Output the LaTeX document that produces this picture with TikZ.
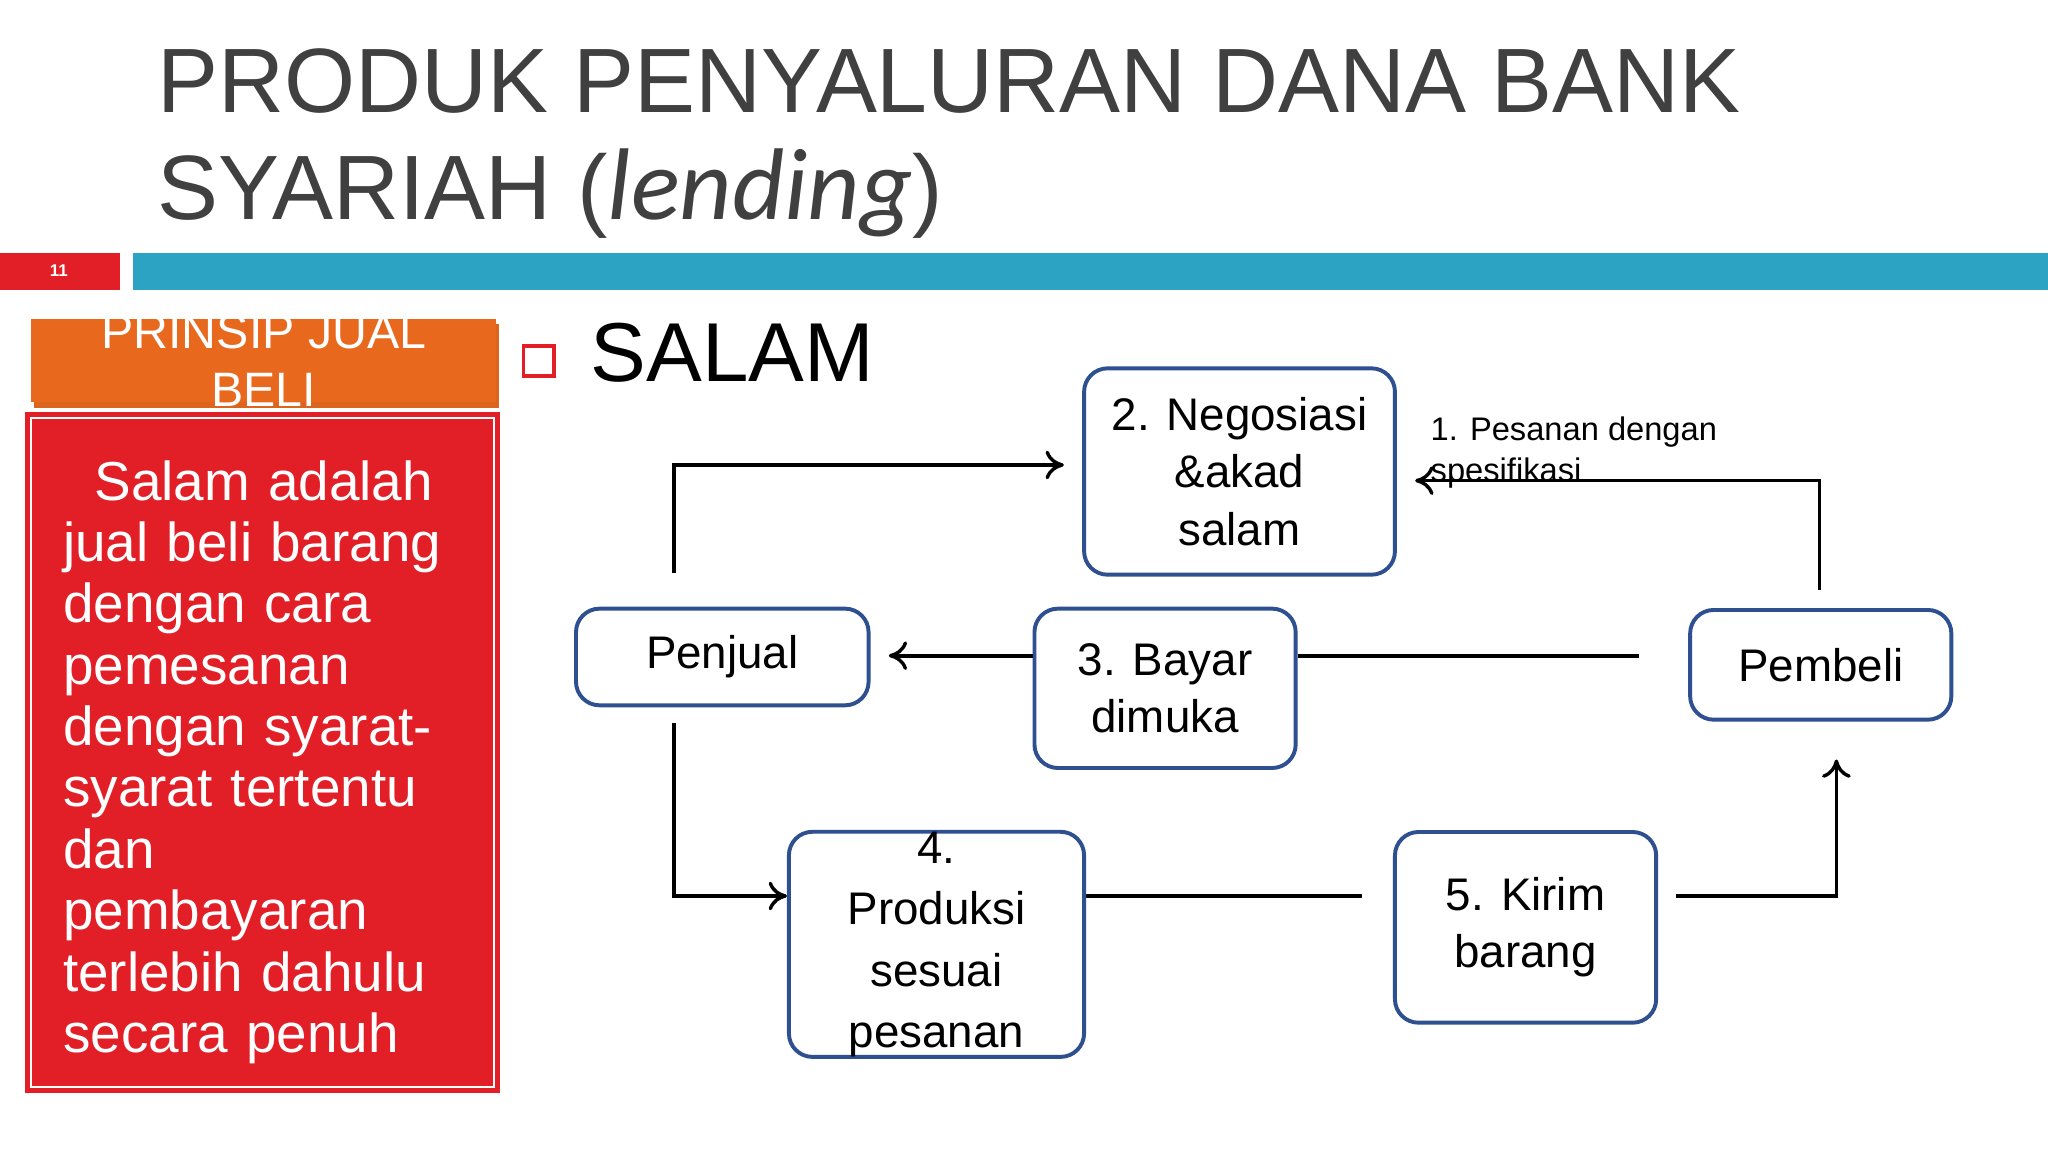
\documentclass[tikz,border=0pt]{standalone}
\usepackage{fontspec}
\setmainfont{Liberation Sans}
\newfontfamily\carl{Carlito}
\usetikzlibrary{arrows.meta,calc}
\definecolor{ttl}{HTML}{404040}
\definecolor{teal}{HTML}{2DA3C4}
\definecolor{rbar}{HTML}{E21F26}
\definecolor{org}{HTML}{E8691E}
\definecolor{bdr}{HTML}{2F5090}
\tikzset{
  box/.style={draw=bdr,line width=1.5pt,rounded corners=9pt,fill=white,align=center,font=\fontsize{17.5}{22}\selectfont,inner sep=0pt},
  conn/.style={line width=1.4pt,black},
  arr/.style={conn,-{To[length=7pt,width=11pt,line width=1.3pt]}}
}
\begin{document}
\begin{tikzpicture}[x=0.5pt,y=-0.5pt]
\useasboundingbox (0,0) rectangle (1568,882);
\fill[white] (0,0) rectangle (1568,882);
% title
\node[anchor=base west,text=ttl,font=\fontsize{35}{35}\selectfont,inner sep=0pt] (t1) at (120,86) {PRODUK PENYALURAN DANA BANK};
\node[anchor=base west,text=ttl,font=\fontsize{35}{35}\selectfont,inner sep=0pt] (t2) at (120,168) {SYARIAH ({\carl\itshape\fontsize{39}{39}\selectfont lending})};
% bars
\fill[rbar] (0,194) rectangle (92,222);
\node[text=white,font=\fontsize{6.5}{7}\selectfont\bfseries] (num) at (45,207) {11};
\fill[teal] (102,194) rectangle (1568,222);
% orange box
\begin{scope}
\clip (0,244) rectangle (400,316);
\fill[org!95!black] (26,248) rectangle (382,312);
\fill[org] (24,244) rectangle (380,308);
\node[text=white,align=center,font=\fontsize{18.5}{22}\selectfont] (ob) at (202,276) {PRINSIP JUAL\\BELI};
\end{scope}
% red box
\fill[rbar] (20,316) rectangle (382,836);
\draw[white,line width=0.8pt] (24,320) rectangle (378,832);
\draw[rbar,line width=0.6pt] (20,316) rectangle (382,836);
\node[anchor=north west,text=white,align=left,text width=175pt,inner sep=0pt,font=\fontsize{21}{23.5}\selectfont] (rt) at (48,352)
{\hspace*{12pt}Salam adalah\\jual beli barang\\dengan cara\\pemesanan\\dengan syarat-\\syarat tertentu\\dan\\pembayaran\\terlebih dahulu\\secara penuh};
% bullet and SALAM
\draw[rbar,line width=1.3pt] (401,265) rectangle (424,288);
\node[anchor=west,font=\fontsize{32}{32}\selectfont,inner sep=0pt] (salam) at (452,270) {SALAM};
% nodes
\node[box,minimum width=119pt,minimum height=79pt] (neg) at (949,361) {2. Negosiasi\\\&akad\\salam};
\node[box,minimum width=112pt,minimum height=37pt] (pj) at (553,503) {Penjual};
\node[box,minimum width=100pt,minimum height=61pt] (by) at (892,527) {3. Bayar\\dimuka};
\node[box,minimum width=100pt,minimum height=42pt] (pb) at (1394,509) {Pembeli};
\node[box,minimum width=113pt,minimum height=73pt,font=\fontsize{17.5}{23.5}\selectfont] (pr) at (717,723) {4.\\Produksi\\sesuai\\pesanan};
\node[box,minimum width=100pt,minimum height=73pt] (kr) at (1168,710) {5. Kirim\\barang};
% label
\node[anchor=north west,align=left,inner sep=0pt,font=\fontsize{12.5}{15.5}\selectfont] (lbl) at (1095,319) {1. Pesanan dengan\\spesifikasi};
% connectors
\coordinate (c1) at (516,356);
\draw[arr] ($(pj.north)+(-37,-26)$) -- (c1) -- ($(neg.west)+(-14,-5)$);
\coordinate (c2) at (1393,368);
\draw[arr] ($(pb.north)+(-1,-14)$) -- (c2) -- ($(neg.east)+(14,7)$);
\coordinate (c3) at (1255,502);
\draw[conn] (c3) -- (by.east |- c3);
\draw[arr] (by.west |- c3) -- ($(pj.east)+(14,-1)$);
\coordinate (c4) at (516,686);
\draw[arr] ($(pj.south)+(-37,12)$) -- (c4) -- (pr.west |- c4);
\coordinate (c5) at (1043,686);
\draw[conn] (pr.east |- c5) -- (c5);
\coordinate (c6) at (1406,686);
\draw[arr] ($(kr.east)+(14,-24)$) -- (c6) -- ($(pb.south)+(12,29)$);
\end{tikzpicture}
\end{document}
